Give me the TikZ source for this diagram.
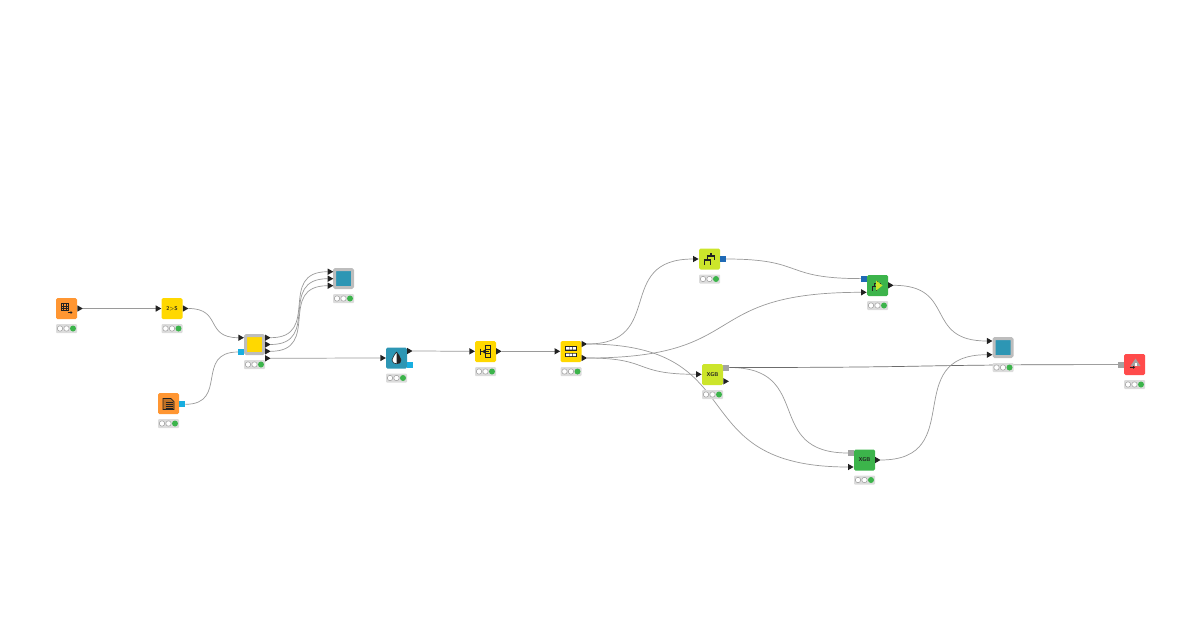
\documentclass[tikz,border=0pt]{standalone}
\usepackage{tikz}
\usetikzlibrary{shapes.geometric,backgrounds}

\definecolor{knorange}{HTML}{FF9632}
\definecolor{knyellow}{HTML}{FFD800}
\definecolor{knteal}{HTML}{2D96B4}
\definecolor{knlime}{HTML}{CCE52B}
\definecolor{kngreen}{HTML}{3CB44B}
\definecolor{knred}{HTML}{FF4B4B}
\definecolor{knframe}{HTML}{BDBDBD}
\definecolor{knbar}{HTML}{DCDCDC}
\definecolor{knlink}{HTML}{9A9A9A}
\definecolor{knring}{HTML}{9C9C9C}
\definecolor{knsky}{HTML}{18AEE0}
\definecolor{knblue}{HTML}{1F6AB5}
\definecolor{knport}{HTML}{A3A3A3}
\definecolor{knblack}{HTML}{222222}

\tikzset{
  box/.style={draw=none,rounded corners=1.5pt,minimum size=21pt,inner sep=0pt,outer sep=0pt,font=\sffamily\bfseries\fontsize{5.5}{5.5}\selectfont,text=knblack},
  viewbox/.style={box,fill=#1,draw=knframe,line width=3pt,minimum size=18pt,rounded corners=1pt},
  arrowport/.style={isosceles triangle,isosceles triangle stretches,shape border rotate=0,fill=knblack,minimum width=6.4pt,minimum height=5.6pt,inner sep=0pt,outer sep=0pt,anchor=west},
  squareport/.style={rectangle,fill=#1,minimum size=6pt,inner sep=0pt,outer sep=0pt},
  statusbar/.style={rectangle,rounded corners=1pt,fill=knbar,minimum width=21pt,minimum height=9pt,inner sep=0pt,outer sep=0pt},
  link/.style={draw=knlink,line width=0.7pt,out=0,in=180,looseness=1.5},
  icon/.style={line width=1pt,draw=knblack}
}

\begin{document}
\begin{tikzpicture}[x=1pt,y=-1pt]
\useasboundingbox (0,0) rectangle (1200,630);

\node [box,fill=knorange] (reader) at (66.5,308.5) {};
\node [box,fill=knyellow] (convert) at (172,308.5) {2>S};
\node [box,fill=knorange] (creator) at (168.5,403.5) {};
\node [viewbox=knyellow] (joiner) at (254.5,344.5) {};
\node [viewbox=knteal] (chart) at (343.5,278.5) {};
\node [box,fill=knteal] (missing) at (396.5,358) {};
\node [box,fill=knyellow] (filter) at (485.5,351.5) {};
\node [box,fill=knyellow] (split) at (571,351.5) {};
\node [box,fill=knlime] (tree) at (709.5,259) {};
\node [box,fill=kngreen] (predict) at (877.5,285.5) {};
\node [box,fill=knlime] (xgblearn) at (712.5,374.5) {XGB};
\node [box,fill=kngreen] (xgbpredict) at (864.5,460) {XGB};
\node [viewbox=knteal] (score) at (1003,347.5) {};
\node [box,fill=knred] (writer) at (1134.5,364.5) {};

\foreach \n in {reader,convert,creator,joiner,chart,missing,filter,split,tree,predict,xgblearn,xgbpredict,score,writer} {
  \node [statusbar] (\n bar) at ([yshift=-20pt]\n.center) {};
  \filldraw [fill=white,draw=knring,line width=0.5pt] ([xshift=-6.5pt]\n bar.center) circle (2.7pt);
  \filldraw [fill=white,draw=knring,line width=0.5pt] (\n bar.center) circle (2.7pt);
  \fill [kngreen] ([xshift=6.5pt]\n bar.center) circle (3pt);
}

\node [arrowport] (readerout) at (77.3,308.5) {};
\node [arrowport] (convertin) at (155.7,308.5) {};
\node [arrowport] (convertout) at (182.8,308.5) {};
\node [squareport=knsky] (creatorout) at (182.3,404.3) {};
\node [arrowport] (joinerin) at (238.3,337.7) {};
\node [squareport=knsky] (joinerblue) at (241,352) {};
\node [arrowport] (joinerouta) at (265,337.7) {};
\node [arrowport] (joineroutb) at (265,344.5) {};
\node [arrowport] (joineroutc) at (265,351.3) {};
\node [arrowport] (joineroutd) at (265,358.3) {};
\node [arrowport] (chartina) at (327.7,271.7) {};
\node [arrowport] (chartinb) at (327.7,278.7) {};
\node [arrowport] (chartinc) at (327.7,285.7) {};
\node [arrowport] (missingin) at (380.3,358) {};
\node [squareport=knsky] (missingblue) at (409.8,365) {};
\node [arrowport] (missingout) at (407,351) {};
\node [arrowport] (filterin) at (469.3,351.3) {};
\node [arrowport] (filterout) at (496,351.3) {};
\node [arrowport] (splitin) at (554.5,351.3) {};
\node [arrowport] (splitouta) at (581.5,344) {};
\node [arrowport] (splitoutb) at (581.5,358) {};
\node [arrowport] (treein) at (693,259) {};
\node [squareport=knblue] (treeout) at (723,259) {};
\node [squareport=knblue] (predictmodel) at (864,278.6) {};
\node [arrowport] (predictin) at (861,292.3) {};
\node [arrowport] (predictout) at (888,285.3) {};
\node [arrowport] (xgblearnin) at (696,374.3) {};
\node [squareport=knport] (xgblearnout) at (726.3,367.5) {};
\node [arrowport] (xgblearndata) at (723.3,381.3) {};
\node [squareport=knport] (xgbpredictmodel) at (851,453) {};
\node [arrowport] (xgbpredictin) at (848,467) {};
\node [arrowport] (xgbpredictout) at (875,460) {};
\node [arrowport] (scoreina) at (986.8,341) {};
\node [arrowport] (scoreinb) at (986.8,354.7) {};
\node [squareport=knport] (writerin) at (1121.2,364.6) {};

\begin{scope}[on background layer]
\draw [link] (readerout.east) to (convertin.west);
\draw [link] (convertout.east) to (joinerin.west);
\draw [link] (creatorout.east) to (joinerblue.west);
\draw [link] (joinerouta.east) to (chartina.west);
\draw [link] (joineroutb.east) to (chartinb.west);
\draw [link] (joineroutc.east) to (chartinc.west);
\draw [link] (joineroutd.east) to (missingin.west);
\draw [link] (missingout.east) to (filterin.west);
\draw [link] (filterout.east) to (splitin.west);
\draw [link] (splitouta.east) to (treein.west);
\draw [link] (splitouta.east) to (xgbpredictin.west);
\draw [link] (splitoutb.east) to (predictin.west);
\draw [link] (splitoutb.east) to (xgblearnin.west);
\draw [link] (treeout.east) to (predictmodel.west);
\draw [link] (predictout.east) to (scoreina.west);
\draw [link] (xgblearnout.east) to (xgbpredictmodel.west);
\draw [link,draw=knlink!70!black] (xgblearnout.east) to (writerin.west);
\draw [link] (xgbpredictout.east) to (scoreinb.west);
\end{scope}

% node glyphs
\begin{scope}[shift={(reader.center)},icon]
\draw [line width=0.7pt] (-5,-5) rectangle (1.5,2);
\draw [line width=0.6pt] (-5,-2.7) -- (1.5,-2.7) (-5,-0.3) -- (1.5,-0.3) (-2.8,-5) -- (-2.8,2) (-0.6,-5) -- (-0.6,2);
\draw (1,4) -- (5,4);
\fill [knblack] (6,4) -- (4,2.4) -- (4,5.6) -- cycle;
\end{scope}
\begin{scope}[shift={(creator.center)},icon]
\filldraw [fill=knorange!75!black,line width=0.7pt] (-5.5,-5) -- (2.5,-5) -- (5.5,-2) -- (5.5,6) -- (-5.5,6) -- cycle;
\draw [line width=0.7pt] (-3,-1) -- (4,-1) (-3,1) -- (4,1) (-3,3) -- (4,3) (-3,4.8) -- (4,4.8);
\end{scope}
\begin{scope}[shift={(missing.center)},icon]
\fill [white,draw=knblack,line width=0.6pt] (0,-6) .. controls (1.5,-3) and (4.5,-1) .. (4.5,2) .. controls (4.5,7) and (-4.5,7) .. (-4.5,2) .. controls (-4.5,-1) and (-1.5,-3) .. (0,-6);
\fill [knblack] (0,-6) .. controls (1.5,-3) and (4.5,-1) .. (4.5,2) .. controls (4.5,6) and (1.5,6) .. (0,5.5) -- cycle;
\end{scope}
\begin{scope}[shift={(filter.center)},icon]
\draw [line width=0.7pt,fill=knyellow] (0,-6) rectangle (5,6);
\draw [line width=0.7pt] (0,-2) -- (5,-2) (0,2) -- (5,2);
\draw (-5.5,-3) -- (-5.5,3) (-5,0) -- (3,0);
\fill [knblack] (-3.5,0) -- (-0.5,-2) -- (-0.5,2) -- cycle;
\end{scope}
\begin{scope}[shift={(split.center)},icon]
\fill [knblack] (-6,-5.5) rectangle (6,-0.8);
\fill [knblack] (-6,1) rectangle (6,5.7);
\fill [white] (-4.8,-4.3) rectangle (-2,-2) (-1.3,-4.3) rectangle (1.3,-2) (2,-4.3) rectangle (4.8,-2);
\fill [white] (-4.8,2.2) rectangle (-2,4.5) (-1.3,2.2) rectangle (1.3,4.5) (2,2.2) rectangle (4.8,4.5);
\end{scope}
\begin{scope}[shift={(tree.center)},icon,line width=1.2pt]
\draw (-5,5.5) -- (-5,1) -- (1,1) -- (1,5.5) (-2,1) -- (-2,-3) -- (5,-3) -- (5,1) (1.5,-3) -- (1.5,-6);
\end{scope}
\begin{scope}[shift={(predict.center)},icon]
\draw [line width=1.2pt] (-5,5) -- (-5,1) -- (-1,1) -- (-1,5) (-3,1) -- (-3,-2) -- (3,-2) -- (3,0) (0,-2) -- (0,-5);
\fill [knlime,draw=none] (-1.5,-5) -- (5,0) -- (-1.5,5) -- cycle;
\end{scope}
\begin{scope}[shift={(writer.center)},icon]
\fill [knport] (1,-6) -- (6,1.5) -- (-4,1.5) -- cycle;
\fill [white] (0.5,-2) rectangle (2,1);
\draw (-5,2.8) -- (-1,2.8);
\fill [knblack] (0.5,2.8) -- (-1.5,1.2) -- (-1.5,4.4) -- cycle;
\end{scope}
\end{tikzpicture}
\end{document}
